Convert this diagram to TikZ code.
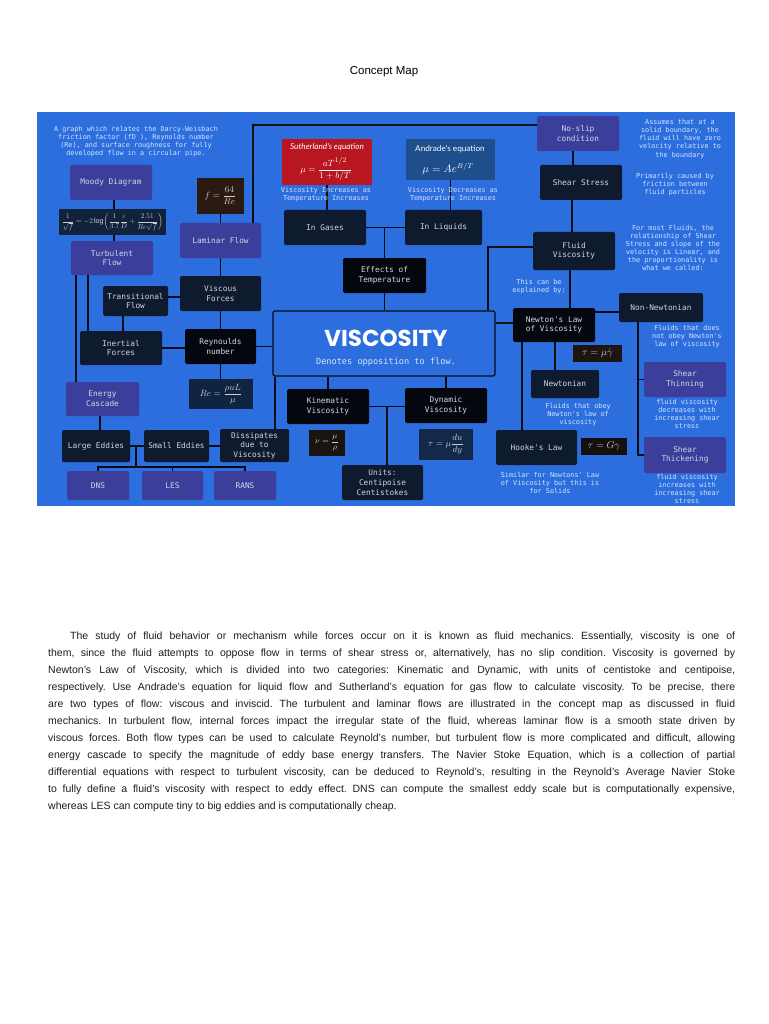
\documentclass[tikz,border=0pt]{standalone}
\usepackage{fontspec}
\usepackage{amsmath}
\usepackage{graphicx}
\setmainfont{Liberation Sans}
\newfontfamily\monof{DejaVu Sans Mono}
\newfontfamily\popf{Poppins}
\newfontfamily\latof{Lato}
\definecolor{panelblue}{RGB}{44,110,222}
\definecolor{purpbox}{RGB}{60,62,155}
\definecolor{darkbox}{RGB}{14,26,46}
\definecolor{blackbox}{RGB}{4,8,14}
\definecolor{boxtxt}{RGB}{210,215,226}
\definecolor{desctxt}{RGB}{215,228,252}
\definecolor{linecol}{RGB}{8,12,20}
\definecolor{eqtxt}{RGB}{205,205,210}
\definecolor{suthred}{RGB}{184,22,32}
\definecolor{andrblue}{RGB}{30,78,140}
\pgfdeclarelayer{panel}
\pgfdeclarelayer{edges}
\pgfsetlayers{panel,edges,main}
\newcommand\mkbox[7]{%
  \pgfmathsetmacro\cx{(#3+#5)/2}\pgfmathsetmacro\cy{(#4+#6)/2}%
  \pgfmathsetmacro\bw{#5-#3}\pgfmathsetmacro\bh{#6-#4}%
  \node[#1,minimum width=\bw pt,minimum height=\bh pt] (#2) at (\cx,\cy) {#7};}
\tikzset{
  bxbase/.style={rectangle, rounded corners=1.5pt, inner sep=0pt, align=center, text=boxtxt, font=\monof\fontsize{7.8}{9.6}\selectfont},
  pbox/.style={bxbase, fill=purpbox},
  dbox/.style={bxbase, fill=darkbox},
  kbox/.style={bxbase, fill=blackbox},
  ebox/.style={rectangle, inner sep=0pt, align=center, text=eqtxt},
  desc/.style={align=center, text=desctxt, font=\monof\fontsize{6.8}{8.1}\selectfont, inner sep=0pt},
  conn/.style={line width=1.4pt, draw=linecol},
}
\begin{document}
\begin{tikzpicture}[x=1pt,y=-1pt]
\useasboundingbox (0,0) rectangle (768,1024);
\begin{pgfonlayer}{panel}
\fill[white] (0,0) rectangle (768,1024);
\fill[panelblue] (37,112) rectangle (735,506);
\end{pgfonlayer}
\node[font=\fontsize{11.5}{13}\selectfont] (title) at (384,72) {Concept Map};

% purple boxes
\mkbox{pbox}{noslip}{537}{116}{619}{151}{No-slip\\condition}
\mkbox{pbox}{moody}{70}{165}{152}{200}{Moody Diagram}
\mkbox{pbox}{turbulent}{71}{241}{153}{275}{Turbulent\\Flow}
\mkbox{pbox}{laminar}{180}{223}{261}{258}{Laminar Flow}
\mkbox{pbox}{energy}{66}{382}{139}{416}{Energy\\Cascade}
\mkbox{pbox}{dns}{67}{471}{129}{500}{DNS}
\mkbox{pbox}{les}{142}{471}{203}{500}{LES}
\mkbox{pbox}{rans}{214}{471}{276}{500}{RANS}
\mkbox{pbox}{shearthin}{644}{362}{726}{397}{Shear\\Thinning}
\mkbox{pbox}{shearthick}{644}{437}{726}{473}{Shear\\Thickening}
% dark boxes
\mkbox{dbox}{shear}{540}{165}{622}{200}{Shear Stress}
\mkbox{dbox}{fluidvisc}{533}{232}{615}{270}{Fluid\\Viscosity}
\mkbox{dbox}{nonnewt}{619}{293}{703}{322}{Non-Newtonian}
\mkbox{dbox}{newtonian}{531}{370}{599}{398}{Newtonian}
\mkbox{dbox}{hooke}{496}{430}{577}{465}{Hooke's Law}
\mkbox{dbox}{ingases}{284}{210}{366}{245}{In Gases}
\mkbox{dbox}{inliquids}{405}{210}{482}{245}{In Liquids}
\mkbox{dbox}{viscous}{180}{276}{261}{311}{Viscous\\Forces}
\mkbox{dbox}{transitional}{103}{286}{168}{316}{Transitional\\Flow}
\mkbox{dbox}{inertial}{80}{331}{162}{365}{Inertial\\Forces}
\mkbox{dbox}{large}{62}{430}{130}{462}{Large Eddies}
\mkbox{dbox}{small}{144}{430}{209}{462}{Small Eddies}
\mkbox{dbox}{dissipates}{220}{429}{289}{462}{Dissipates\\due to\\Viscosity}
\mkbox{dbox}{units}{342}{465}{423}{500}{Units:\\Centipoise\\Centistokes}
% black boxes
\mkbox{kbox}{effects}{343}{258}{426}{293}{Effects of\\Temperature}
\mkbox{kbox}{reynolds}{185}{329}{256}{364}{Reynoulds\\number}
\mkbox{kbox}{newton}{513}{308}{595}{342}{Newton's Law\\of Viscosity}
\mkbox{kbox}{kinematic}{287}{389}{369}{424}{Kinematic\\Viscosity}
\mkbox{kbox}{dynamic}{405}{388}{487}{423}{Dynamic\\Viscosity}
% central box
\mkbox{draw=linecol, line width=1.3pt, rounded corners=2pt, fill=panelblue, inner sep=0pt}{viscosity}{273}{311}{495}{376}{}
\node[font=\popf\bfseries\fontsize{23}{26}\selectfont, text=white, inner sep=0pt] (vtitle) at (386,338) {VISCOSITY};
\node[font=\monof\fontsize{8.6}{10}\selectfont, text=desctxt, inner sep=0pt] (vsub) at (386,362) {Denotes opposition to flow.};

% equation boxes
\mkbox{ebox, fill={rgb,255:red,42;green,26;blue,18}}{fbox}{197}{178}{244}{214}{\fontsize{9.5}{10}\selectfont$f=\dfrac{64}{Re}$}
\mkbox{ebox, fill={rgb,255:red,16;green,35;blue,58}}{cole}{59}{209}{166}{235}{\resizebox{101pt}{!}{$\dfrac{1}{\sqrt{f}}=-2\log\!\left(\dfrac{1}{3.7}\dfrac{\varepsilon}{D}+\dfrac{2.51}{Re\sqrt{f}}\right)$}}
\mkbox{ebox, fill={rgb,255:red,15;green,36;blue,64}}{reform}{189}{379}{253}{409}{\fontsize{9.5}{10}\selectfont$Re=\dfrac{\rho uL}{\mu}$}
\mkbox{ebox, fill={rgb,255:red,26;green,20;blue,16}}{nubox}{309}{430}{345}{456}{\fontsize{8}{9}\selectfont$\nu=\dfrac{\mu}{\rho}$}
\mkbox{ebox, fill={rgb,255:red,19;green,41;blue,74}}{taudu}{419}{429}{473}{460}{\fontsize{9.5}{10}\selectfont$\tau=\mu\dfrac{du}{dy}$}
\mkbox{ebox, fill={rgb,255:red,30;green,20;blue,16}}{taugd}{573}{345}{622}{362}{\fontsize{10}{10}\selectfont$\tau=\mu\dot{\gamma}$}
\mkbox{ebox, fill={rgb,255:red,20;green,16;blue,14}}{taug}{581}{438}{627}{455}{\fontsize{10}{10}\selectfont$\tau=G\gamma$}
\mkbox{ebox, fill=suthred}{suth}{282}{139}{372}{185}{}
\node[text=white, font=\latof\itshape\fontsize{8.2}{9}\selectfont, inner sep=0pt] (suthT) at (327,147) {Sutherland's equation};
\node[text=white, font=\fontsize{9.5}{10}\selectfont, inner sep=0pt] (suthF) at (326,169) {$\mu=\dfrac{aT^{1/2}}{1+b/T}$};
\mkbox{ebox, fill=andrblue}{andr}{406}{139}{495}{180}{}
\node[text=white, font=\latof\fontsize{8.2}{9}\selectfont, inner sep=0pt] (andrT) at (450,149) {Andrade's equation};
\node[text=white, font=\fontsize{10.5}{11}\selectfont, inner sep=0pt] (andrF) at (448,169) {$\mu=Ae^{B/T}$};

% description texts
\node[desc] (moodydesc) at (136,141.5) {A graph which relates the Darcy-Weisbach\\friction factor (fD ), Reynolds number\\(Re), and surface roughness for fully\\developed flow in a circular pipe.};
\node[desc] (suthdesc) at (326,195) {Viscosity Increases as\\Temperature Increases};
\node[desc] (andrdesc) at (453,195) {Viscosity Decreases as\\Temperature Increases};
\node[desc] (noslipdesc) at (680,139) {Assumes that at a\\solid boundary, the\\fluid will have zero\\velocity relative to\\the boundary};
\node[desc] (sheardesc) at (675,185) {Primarily caused by\\friction between\\fluid particles};
\node[desc] (fluiddesc) at (673,248) {For most Fluids, the\\relationship of Shear\\Stress and slope of the\\velocity is Linear, and\\the proportionality is\\what we called:};
\node[desc] (explain) at (539,287) {This can be\\explained by:};
\node[desc] (nonnewtdesc) at (687,337) {Fluids that does\\not obey Newton's\\law of viscosity};
\node[desc] (newtoniandesc) at (578,415) {Fluids that obey\\Newton's law of\\viscosity};
\node[desc] (thindesc) at (687,414) {fluid viscosity\\decreases with\\increasing shear\\stress};
\node[desc] (thickdesc) at (687,489) {fluid viscosity\\increases with\\increasing shear\\stress};
\node[desc] (hookedesc) at (550,483) {Similar for Newtons' Law\\of Viscosity but this is\\for Solids};

% connectors
\begin{pgfonlayer}{edges}
\draw[conn] ([xshift=32.5pt]laminar.north) |- ([yshift=8.5pt]noslip.west);
\draw[conn] ([xshift=-5pt]noslip.south) -- ([xshift=-8pt]shear.north);
\draw[conn] ([xshift=-9pt]shear.south) -- ([xshift=-2pt]fluidvisc.north);
\draw[conn] ([yshift=4pt]fluidvisc.west) -| ([xshift=104pt]viscosity.north);
\draw[conn] ([xshift=-4pt]fluidvisc.south) -- ([xshift=16pt]newton.north);
\draw[conn] ([yshift=20.5pt]viscosity.east) -- ([yshift=2pt]newton.west);
\draw[conn] ([yshift=13pt]newton.east) -- ([yshift=-4.5pt]nonnewt.west);
\draw[conn] ([xshift=-23pt]nonnewt.south) |- (shearthin.west);
\draw[conn] ([xshift=-23pt]nonnewt.south) |- (shearthick.west);
\draw[conn] ([xshift=1pt]newton.south) -- ([xshift=-10pt]newtonian.north);
\draw[conn] ([xshift=-32pt]newton.south) -- ([xshift=-14.5pt]hooke.north);
\draw[conn] (effects.south) -- (effects.south |- viscosity.north);
\draw[conn] (ingases.east) -- (inliquids.west);
\draw[conn] (effects.north) -- (effects.north |- ingases.east);
\draw[conn] (suth.south) -- (suth.south |- ingases.north);
\draw[conn] (andr.south) -- (andr.south |- inliquids.north);
\draw[conn] (kinematic.north) -- (kinematic.north |- viscosity.south);
\draw[conn] (dynamic.north) -- (dynamic.north |- viscosity.south);
\draw[conn] (kinematic.east) -- (kinematic.east -| dynamic.west);
\coordinate (ku) at (387,407);
\draw[conn] (units.north -| ku) -- (ku);
\coordinate (vd) at (275,400);
\draw[conn] (viscosity.south -| vd) -- (dissipates.north -| vd);
\draw[conn] (reynolds.east) -- (reynolds.east -| viscosity.west);
\draw[conn] (inertial.east) -- (inertial.east -| reynolds.west);
\draw[conn] (viscous.south) -- (reynolds.north);
\draw[conn] (reynolds.south) -- (reynolds.south |- reform.north);
\draw[conn] (laminar.south) -- (viscous.north);
\draw[conn] (fbox.south) -- (fbox.south |- laminar.north);
\coordinate (tv) at (170,297);
\draw[conn] (transitional.east |- tv) -- (viscous.west |- tv);
\coordinate (ti) at (123,300);
\draw[conn] (transitional.south -| ti) -- (inertial.north -| ti);
\coordinate (tix) at (88,300);
\draw[conn] (turbulent.south -| tix) -- (inertial.north -| tix);
\coordinate (tex) at (76,300);
\draw[conn] (turbulent.south -| tex) -- (energy.north -| tex);
\coordinate (mt) at (114,200);
\draw[conn] (moody.south -| mt) -- (turbulent.north -| mt);
\coordinate (el) at (100,420);
\draw[conn] (energy.south -| el) -- (large.north -| el);
\draw[conn] (large.east) -- (small.west);
\draw[conn] (small.east) -- (small.east -| dissipates.west);
\coordinate (ej) at (136,467);
\draw[conn] (ej) -- (ej |- large.east);
\draw[conn] (dns.north) |- (ej) -| (rans.north);
\draw[conn] (les.north) -- (les.north |- ej);
\end{pgfonlayer}

% paragraph
\node[anchor=north west, inner sep=0pt, text width=687pt, align=justify, text={rgb,255:red,30;green,30;blue,30}, font=\frenchspacing\fontsize{10.5}{17}\selectfont] (para) at (48,631.5) {\hspace*{22pt}The study of fluid behavior or mechanism while forces occur on it is known as fluid mechanics. Essentially, viscosity is one of\linebreak
them, since the fluid attempts to oppose flow in terms of shear stress or, alternatively, has no slip condition. Viscosity is governed by\linebreak
Newton's Law of Viscosity, which is divided into two categories: Kinematic and Dynamic, with units of centistoke and centipoise,\linebreak
respectively. Use Andrade's equation for liquid flow and Sutherland's equation for gas flow to calculate viscosity. To be precise, there\linebreak
are two types of flow: viscous and inviscid. The turbulent and laminar flows are illustrated in the concept map as discussed in fluid\linebreak
mechanics. In turbulent flow, internal forces impact the irregular state of the fluid, whereas laminar flow is a smooth state driven by\linebreak
viscous forces. Both flow types can be used to calculate Reynold's number, but turbulent flow is more complicated and difficult, allowing\linebreak
energy cascade to specify the magnitude of eddy base energy transfers. The Navier Stoke Equation, which is a collection of partial\linebreak
differential equations with respect to turbulent viscosity, can be deduced to Reynold's, resulting in the Reynold's Average Navier Stoke\linebreak
to fully define a fluid's viscosity with respect to eddy effect. DNS can compute the smallest eddy scale but is computationally expensive,\linebreak
whereas LES can compute tiny to big eddies and is computationally cheap.};
\end{tikzpicture}
\end{document}
